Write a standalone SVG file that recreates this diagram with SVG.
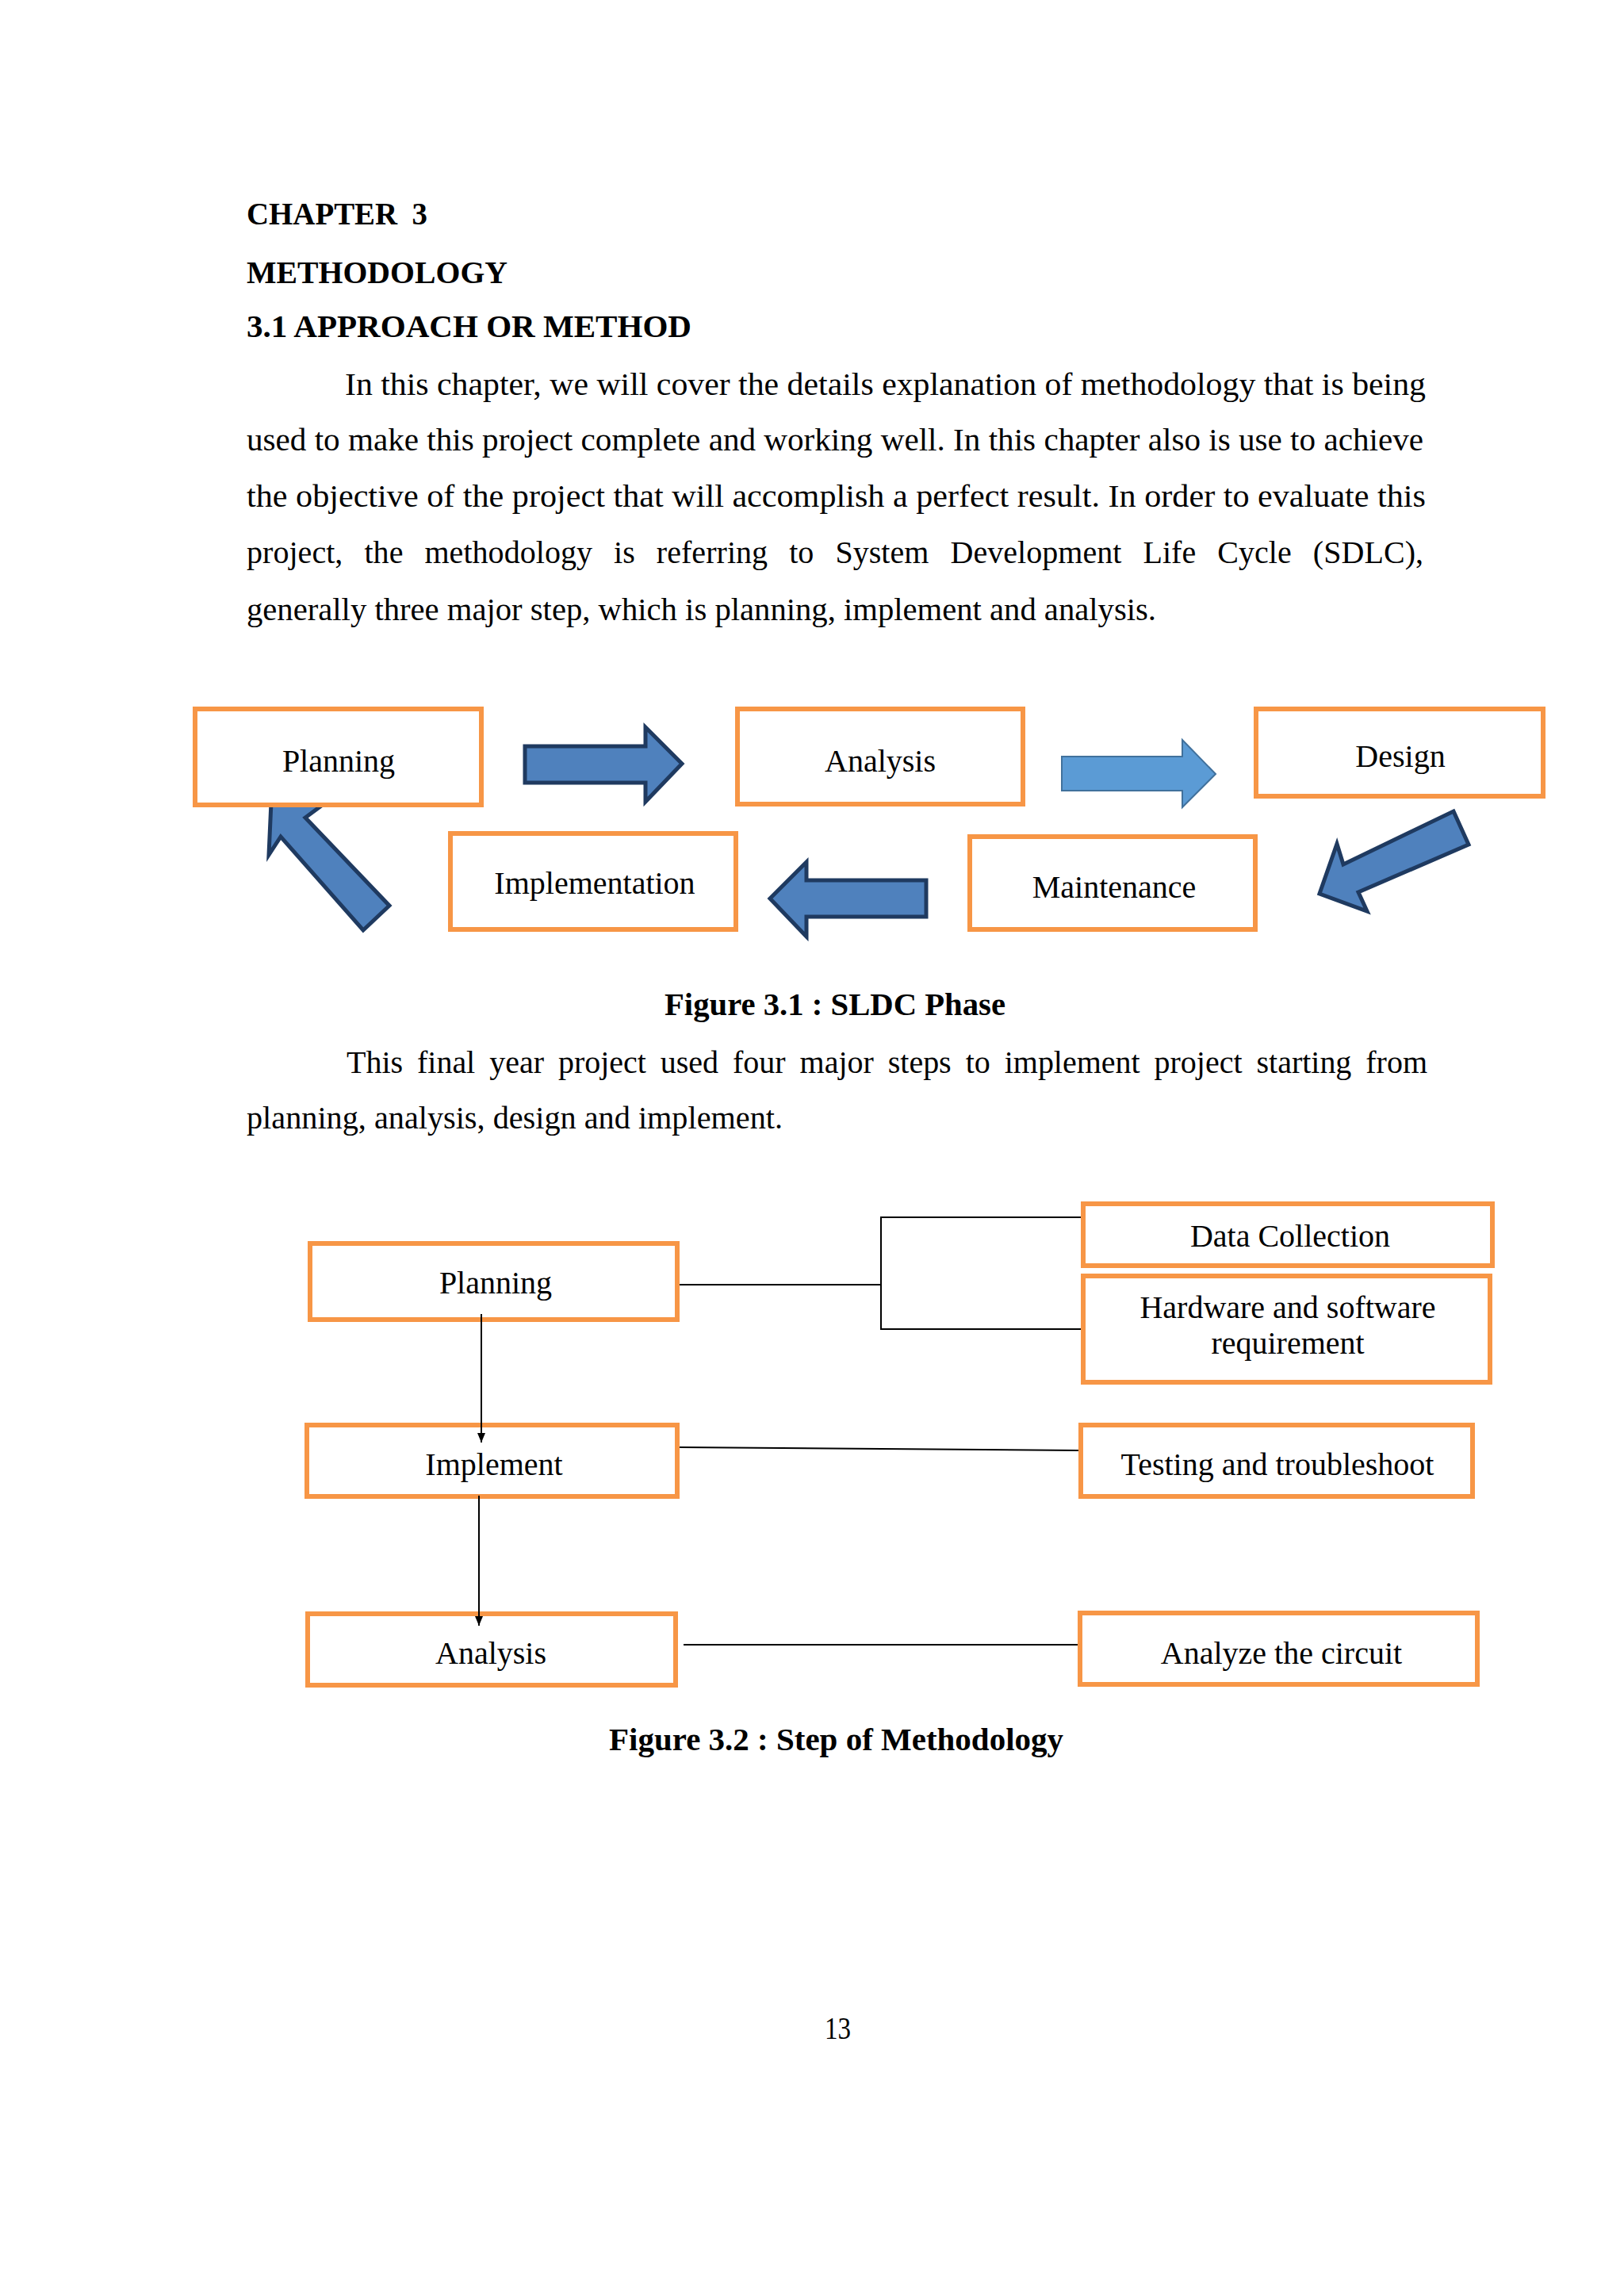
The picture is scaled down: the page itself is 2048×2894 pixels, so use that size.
<svg xmlns="http://www.w3.org/2000/svg" width="2048" height="2894" viewBox="0 0 2048 2894">
  <style>
    .t { font-family: "Liberation Serif", "Times New Roman", serif; font-size: 40px; fill: #000; }
    .b { font-weight: bold; }
    .c { text-anchor: middle; }
    .box { fill: #FFFFFF; stroke: #F79646; stroke-width: 6; }
    .darr { fill: #4F81BD; stroke: #1F3A60; stroke-width: 5; stroke-linejoin: miter; }
    .larr { fill: #5B9BD5; stroke: #41719C; stroke-width: 2; }
    .ln { fill: none; stroke: #000; stroke-width: 2; }
  </style>
  <defs>
    <marker id="ah" markerUnits="userSpaceOnUse" markerWidth="12" markerHeight="12" refX="12" refY="5" orient="auto">
      <path d="M0,0 L12,5 L0,10 z" fill="#000"/>
    </marker>
  </defs>
  <rect x="0" y="0" width="2048" height="2894" fill="#FFFFFF"/>

  <g id="text-body">
    <text class="t b" x="311" y="283" word-spacing="9" textLength="228" lengthAdjust="spacingAndGlyphs">CHAPTER 3</text>
    <text class="t b" x="311" y="357" textLength="329" lengthAdjust="spacingAndGlyphs">METHODOLOGY</text>
    <text class="t b" x="311" y="425" textLength="561" lengthAdjust="spacingAndGlyphs">3.1 APPROACH OR METHOD</text>
    <text class="t" x="435" y="498" textLength="1363" lengthAdjust="spacingAndGlyphs">In this chapter, we will cover the details explanation of methodology that is being</text>
    <text class="t" x="311" y="568" textLength="1484" lengthAdjust="spacingAndGlyphs">used to make this project complete and working well. In this chapter also is use to achieve</text>
    <text class="t" x="311" y="639" textLength="1487" lengthAdjust="spacingAndGlyphs">the objective of the project that will accomplish a perfect result. In order to evaluate this</text>
    <text class="t" x="311" y="710" word-spacing="17" textLength="1484" lengthAdjust="spacing">project, the methodology is referring to System Development Life Cycle (SDLC),</text>
    <text class="t" x="311" y="782" textLength="1147" lengthAdjust="spacingAndGlyphs">generally three major step, which is planning, implement and analysis.</text>
    <text class="t b" x="838" y="1280" textLength="430" lengthAdjust="spacingAndGlyphs">Figure 3.1 : SLDC Phase</text>
    <text class="t" x="437" y="1353" word-spacing="8" textLength="1363" lengthAdjust="spacing">This final year project used four major steps to implement project starting from</text>
    <text class="t" x="311" y="1423" textLength="676" lengthAdjust="spacingAndGlyphs">planning, analysis, design and implement.</text>
    <text class="t b" x="768" y="2207" textLength="573" lengthAdjust="spacingAndGlyphs">Figure 3.2 : Step of Methodology</text>
    <text class="t" x="1040" y="2571" textLength="33" lengthAdjust="spacingAndGlyphs">13</text>
  </g>

  <!-- Figure 3.1 -->
  <g id="fig1-connectors">
    <polygon class="darr" points="662,941 814,941 814,917 860,963 814,1011 814,987 662,987"/>
    <polygon class="larr" points="1339,954 1491,954 1491,933 1533,976 1491,1018 1491,997 1339,997"/>
    <polygon class="darr" points="1833,1023 1852,1065 1713,1125 1724,1149 1664,1127 1686,1064 1694,1090"/>
    <polygon class="darr" points="1168,1110 1017,1110 1017,1087 971,1133 1017,1181 1017,1156 1168,1156"/>
    <polygon class="darr" points="342,1011 408,1014 385,1031 491,1142 458,1173 354,1055 339,1078"/>
  </g>
  <g id="f1-planning">
    <rect class="box" x="246" y="894" width="361" height="121"/>
    <text class="t c" x="427" y="973">Planning</text>
  </g>
  <g id="f1-analysis">
    <rect class="box" x="930" y="894" width="360" height="120"/>
    <text class="t c" x="1110" y="973">Analysis</text>
  </g>
  <g id="f1-design">
    <rect class="box" x="1584" y="894" width="362" height="110"/>
    <text class="t c" x="1766" y="967">Design</text>
  </g>
  <g id="f1-implementation">
    <rect class="box" x="568" y="1051" width="360" height="121"/>
    <text class="t c" x="750" y="1127">Implementation</text>
  </g>
  <g id="f1-maintenance">
    <rect class="box" x="1223" y="1055" width="360" height="117"/>
    <text class="t c" x="1405" y="1132">Maintenance</text>
  </g>

  <!-- Figure 3.2 -->
  <g id="f2-planning">
    <rect class="box" x="391" y="1568" width="463" height="96"/>
    <text class="t c" x="625" y="1631">Planning</text>
  </g>
  <g id="f2-data-collection">
    <rect class="box" x="1366" y="1518" width="516" height="78"/>
    <text class="t c" x="1627" y="1572">Data Collection</text>
  </g>
  <g id="f2-hardware">
    <rect class="box" x="1366" y="1609" width="513" height="134"/>
    <text class="t c" x="1624" y="1662">Hardware and software</text>
    <text class="t c" x="1624" y="1707">requirement</text>
  </g>
  <g id="f2-implement">
    <rect class="box" x="387" y="1797" width="467" height="90"/>
    <text class="t c" x="623" y="1860">Implement</text>
  </g>
  <g id="f2-testing">
    <rect class="box" x="1363" y="1797" width="494" height="90"/>
    <text class="t c" x="1611" y="1860">Testing and troubleshoot</text>
  </g>
  <g id="f2-analysis">
    <rect class="box" x="388" y="2035" width="464" height="90"/>
    <text class="t c" x="619" y="2098">Analysis</text>
  </g>
  <g id="f2-analyze">
    <rect class="box" x="1362" y="2034" width="501" height="90"/>
    <text class="t c" x="1616" y="2098">Analyze the circuit</text>
  </g>

  <g id="fig2-connectors">
    <line class="ln" x1="857" y1="1620" x2="1111" y2="1620"/>
    <polyline class="ln" points="1363,1535 1111,1535 1111,1676 1363,1676"/>
    <line class="ln" x1="607" y1="1657" x2="607" y2="1819" marker-end="url(#ah)"/>
    <line class="ln" x1="604" y1="1886" x2="604" y2="2050" marker-end="url(#ah)"/>
    <line class="ln" x1="857" y1="1825" x2="1360" y2="1829"/>
    <line class="ln" x1="862" y1="2074" x2="1359" y2="2074"/>
  </g>
</svg>
